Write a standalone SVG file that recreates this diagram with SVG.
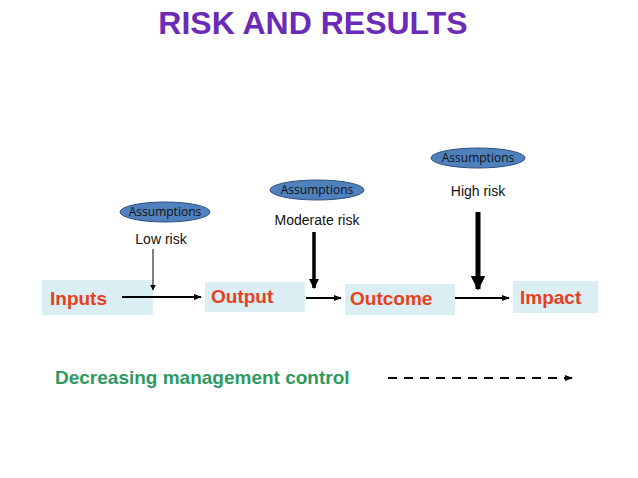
<svg xmlns="http://www.w3.org/2000/svg" width="638" height="478" viewBox="0 0 638 478">
<style>
.box{fill:#dbeef3}
.lbl{font-family:"Liberation Sans",Arial,sans-serif;font-weight:bold;font-size:19px;fill:#e8401c}
.ell{fill:#4f81bd;stroke:#2f4f7f;stroke-width:1}
.at{font-family:"Open Sans","Liberation Sans",sans-serif;font-size:12px;fill:#111;text-anchor:middle}
.rk{font-family:"Liberation Sans",Arial,sans-serif;font-size:14px;fill:#111;text-anchor:middle}
.ln{stroke:#000;fill:none}
</style>
<defs>
<marker id="ah" viewBox="0 0 10 10" refX="9" refY="5" markerWidth="4" markerHeight="4" orient="auto" markerUnits="strokeWidth"><path d="M0,1 L10,5 L0,9 z" fill="#000"/></marker>
<marker id="ah2" viewBox="0 0 10 10" refX="9" refY="5" markerWidth="3" markerHeight="3" orient="auto" markerUnits="strokeWidth"><path d="M0,0 L10,5 L0,10 z" fill="#000"/></marker>
<marker id="ah3" viewBox="0 0 10 10" refX="9" refY="5" markerWidth="6" markerHeight="6" orient="auto" markerUnits="strokeWidth"><path d="M0,0 L10,5 L0,10 z" fill="#000"/></marker>
</defs>
<rect width="638" height="478" fill="#fff"/>
<text x="313" y="34" text-anchor="middle" font-family="Liberation Sans,Arial,sans-serif" font-weight="bold" font-size="32" fill="#6a2bb8">RISK AND RESULTS</text>
<g id="inputs"><rect class="box" x="42" y="280" width="111" height="35"/><text class="lbl" x="50" y="305">Inputs</text></g>
<g id="output"><rect class="box" x="205" y="282" width="100" height="30"/><text class="lbl" x="211" y="303">Output</text></g>
<g id="outcome"><rect class="box" x="345" y="284" width="110" height="31"/><text class="lbl" x="350" y="305">Outcome</text></g>
<g id="impact"><rect class="box" x="513" y="281" width="85" height="32"/><text class="lbl" x="520" y="304">Impact</text></g>
<g id="a1"><ellipse class="ell" cx="165" cy="212" rx="45" ry="10"/><text class="at" x="165" y="216">Assumptions</text><text class="rk" x="161" y="244">Low risk</text></g>
<g id="a2"><ellipse class="ell" cx="317" cy="190" rx="47" ry="10"/><text class="at" x="317" y="194">Assumptions</text><text class="rk" x="317" y="225">Moderate risk</text></g>
<g id="a3"><ellipse class="ell" cx="478" cy="158" rx="47" ry="10"/><text class="at" x="478" y="162">Assumptions</text><text class="rk" x="478" y="196">High risk</text></g>
<text x="55" y="384" font-family="Liberation Sans,Arial,sans-serif" font-weight="bold" font-size="19" fill="#2e9a5e">Decreasing management control</text>
<g id="connectors">
<line class="ln" x1="122" y1="297" x2="201" y2="297" stroke-width="2" marker-end="url(#ah)"/>
<line class="ln" x1="306" y1="298" x2="341" y2="298" stroke-width="2" marker-end="url(#ah)"/>
<line class="ln" x1="455" y1="298" x2="509" y2="298" stroke-width="2" marker-end="url(#ah)"/>
<line class="ln" x1="153" y1="249" x2="153" y2="290" stroke-width="1" marker-end="url(#ah3)"/>
<line class="ln" x1="314" y1="232" x2="314" y2="288" stroke-width="3.5" marker-end="url(#ah2)"/>
<line class="ln" x1="478" y1="212" x2="478" y2="289" stroke-width="5" marker-end="url(#ah2)"/>
<line class="ln" x1="388" y1="378" x2="572" y2="378" stroke-width="2" stroke-dasharray="9,7" marker-end="url(#ah)"/>
</g>
</svg>
